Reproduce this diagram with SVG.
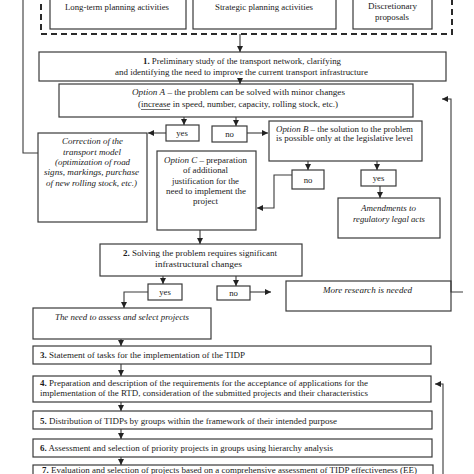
<svg xmlns="http://www.w3.org/2000/svg" width="474" height="474" viewBox="0 0 474 474">
<style>
.b{fill:#fff;stroke:#3a3a3a;stroke-width:1.2}
.t{font-family:"Liberation Serif","Times New Roman",serif;font-size:8.7px;fill:#1a1a1a}
.i{font-style:italic;font-size:9px}
.c{stroke:#3a3a3a;stroke-width:1.1;fill:none}
.d{fill:none;stroke:#2a2a2a;stroke-width:2;stroke-dasharray:6 4}
</style>
<defs>
<marker id="ah" markerUnits="userSpaceOnUse" markerWidth="6" markerHeight="6" refX="6" refY="3" orient="auto">
<path d="M0,0 L6,3 L0,6 z" fill="#222"/>
</marker>
</defs>
<rect width="474" height="474" fill="#fff"/>

<g id="sources">
<rect class="d" x="41" y="-10" width="411" height="44"/>
<g id="longterm"><rect class="b" x="50" y="-10" width="136" height="39"/>
<text class="t" x="65" y="10" textLength="104" lengthAdjust="spacingAndGlyphs">Long-term planning activities</text></g>
<g id="strategic"><rect class="b" x="193" y="-10" width="143" height="39"/>
<text class="t" x="215" y="10" textLength="98" lengthAdjust="spacingAndGlyphs">Strategic planning activities</text></g>
<g id="discretionary"><rect class="b" x="353" y="-10" width="79" height="39"/>
<text class="t" x="368" y="9" textLength="49" lengthAdjust="spacingAndGlyphs">Discretionary</text>
<text class="t" x="375" y="20" textLength="34" lengthAdjust="spacingAndGlyphs">proposals</text></g>
</g>

<g id="step1"><rect class="b" x="39" y="52" width="407" height="29"/>
<text class="t" x="143" y="64" textLength="198" lengthAdjust="spacingAndGlyphs"><tspan font-weight="bold">1.</tspan> Preliminary study of the transport network, clarifying</text>
<text class="t" x="115" y="74.5" textLength="253" lengthAdjust="spacingAndGlyphs">and identifying  the need to improve the current transport infrastructure</text></g>

<g id="optionA"><rect class="b" x="59" y="84" width="354" height="33"/>
<text class="t" x="132" y="95" textLength="213" lengthAdjust="spacingAndGlyphs"><tspan font-style="italic">Option A</tspan> – the problem can be solved with minor changes</text>
<text class="t" x="138" y="107" textLength="200" lengthAdjust="spacingAndGlyphs">(increase in speed, number, capacity, rolling stock, etc.)</text>
<line x1="141" y1="109.5" x2="170" y2="109.5" stroke="#333" stroke-width="0.7"/></g>

<g id="yesA"><rect class="b" x="166" y="125" width="33" height="16"/>
<text class="t" x="182" y="136" text-anchor="middle">yes</text></g>
<g id="noA"><rect class="b" x="212" y="126" width="35" height="16"/>
<text class="t" x="229.5" y="137" text-anchor="middle">no</text></g>

<g id="correction"><rect class="b" x="38" y="133" width="109" height="89"/>
<text class="t i" x="92.5" y="144" text-anchor="middle" textLength="61" lengthAdjust="spacingAndGlyphs">Correction of the</text>
<text class="t i" x="92" y="154.5" text-anchor="middle" textLength="58" lengthAdjust="spacingAndGlyphs">transport model</text>
<text class="t i" x="92.5" y="165" text-anchor="middle" textLength="75" lengthAdjust="spacingAndGlyphs">(optimization of road</text>
<text class="t i" x="91.5" y="175" text-anchor="middle" textLength="95" lengthAdjust="spacingAndGlyphs">signs, markings, purchase</text>
<text class="t i" x="91.5" y="186" text-anchor="middle" textLength="91" lengthAdjust="spacingAndGlyphs">of new rolling stock, etc.)</text></g>

<g id="optionB"><rect class="b" x="269" y="121" width="153" height="40"/>
<text class="t" x="276" y="132" textLength="137" lengthAdjust="spacingAndGlyphs"><tspan font-style="italic">Option B</tspan> – the solution to the problem</text>
<text class="t" x="276" y="140.5" textLength="137" lengthAdjust="spacingAndGlyphs">is possible only at the legislative  level</text></g>

<g id="noB"><rect class="b" x="292" y="170" width="32" height="19"/>
<text class="t" x="308" y="183" text-anchor="middle">no</text></g>
<g id="yesB"><rect class="b" x="361" y="170" width="35" height="16"/>
<text class="t" x="378.5" y="181" text-anchor="middle">yes</text></g>

<g id="amendments"><rect class="b" x="338" y="198" width="102" height="40"/>
<text class="t i" x="388.5" y="211" text-anchor="middle" textLength="55" lengthAdjust="spacingAndGlyphs">Amendments to</text>
<text class="t i" x="389" y="222" text-anchor="middle" textLength="72" lengthAdjust="spacingAndGlyphs">regulatory legal acts</text></g>

<g id="optionC"><rect class="b" x="157" y="151" width="99" height="79"/>
<text class="t" x="205.5" y="163" text-anchor="middle" textLength="83" lengthAdjust="spacingAndGlyphs"><tspan font-style="italic">Option C</tspan> – preparation</text>
<text class="t" x="205.5" y="173" text-anchor="middle" textLength="45" lengthAdjust="spacingAndGlyphs">of additional</text>
<text class="t" x="205.5" y="184" text-anchor="middle" textLength="67" lengthAdjust="spacingAndGlyphs">justification  for the</text>
<text class="t" x="206" y="194" text-anchor="middle" textLength="80" lengthAdjust="spacingAndGlyphs">need to implement  the</text>
<text class="t" x="205.5" y="204" text-anchor="middle" textLength="25" lengthAdjust="spacingAndGlyphs">project</text></g>

<g id="step2"><rect class="b" x="100" y="244" width="202" height="32"/>
<text class="t" x="123" y="256" textLength="154" lengthAdjust="spacingAndGlyphs"><tspan font-weight="bold">2.</tspan> Solving the problem requires significant</text>
<text class="t" x="155" y="267" textLength="87" lengthAdjust="spacingAndGlyphs">infrastructural  changes</text></g>

<g id="yes2"><rect class="b" x="148" y="284" width="34" height="16"/>
<text class="t" x="165" y="295" text-anchor="middle">yes</text></g>
<g id="no2"><rect class="b" x="217" y="286" width="33" height="14"/>
<text class="t" x="233.5" y="296" text-anchor="middle">no</text></g>

<g id="research"><rect class="b" x="286" y="281" width="165" height="30"/>
<text class="t i" x="323" y="293" textLength="89" lengthAdjust="spacingAndGlyphs">More research is needed</text></g>

<g id="need"><rect class="b" x="33" y="308" width="178" height="31"/>
<text class="t i" x="55" y="320" textLength="134" lengthAdjust="spacingAndGlyphs">The need to assess and select projects</text></g>

<g id="step3"><rect class="b" x="33" y="346" width="398" height="18"/>
<text class="t" x="40" y="358" textLength="205" lengthAdjust="spacingAndGlyphs"><tspan font-weight="bold">3.</tspan> Statement of tasks for the implementation  of the TIDP</text></g>

<g id="step4"><rect class="b" x="33" y="376" width="398" height="26"/>
<text class="t" x="40" y="386" textLength="328" lengthAdjust="spacingAndGlyphs"><tspan font-weight="bold">4.</tspan> Preparation and description of the requirements for the acceptance of applications for the</text>
<text class="t" x="40" y="396" textLength="328" lengthAdjust="spacingAndGlyphs">implementation  of the RTD, consideration of the submitted projects and their characteristics</text></g>

<g id="step5"><rect class="b" x="33" y="411" width="399" height="18"/>
<text class="t" x="40" y="424" textLength="297" lengthAdjust="spacingAndGlyphs"><tspan font-weight="bold">5.</tspan> Distribution of TIDPs by groups within the framework of their intended purpose</text></g>

<g id="step6"><rect class="b" x="33" y="439" width="399" height="18"/>
<text class="t" x="40" y="451" textLength="293" lengthAdjust="spacingAndGlyphs"><tspan font-weight="bold">6.</tspan> Assessment and selection of priority projects in groups using hierarchy analysis</text></g>

<g id="step7"><rect class="b" x="33" y="465" width="400" height="25"/>
<text class="t" x="42" y="473" textLength="375" lengthAdjust="spacingAndGlyphs"><tspan font-weight="bold">7.</tspan> Evaluation and selection of projects based on a comprehensive assessment of TIDP effectiveness (EE)</text></g>

<g id="connectors" class="c">
<path class="c" d="M240,34 V52" marker-end="url(#ah)"/>
<path class="c" d="M240,81 V84" marker-end="url(#ah)"/>
<path class="c" d="M184,117 V125" marker-end="url(#ah)"/>
<path class="c" d="M236,117 V126" marker-end="url(#ah)"/>
<path class="c" d="M166,133 H148" marker-end="url(#ah)"/>
<path class="c" d="M247,133 H268" marker-end="url(#ah)"/>
<path class="c" d="M308,161 V170" marker-end="url(#ah)"/>
<path class="c" d="M377,161 V170" marker-end="url(#ah)"/>
<path class="c" d="M380,186 V198" marker-end="url(#ah)"/>
<path class="c" d="M292,175 H274 V208 H257" marker-end="url(#ah)"/>
<path class="c" d="M200,230 V244" marker-end="url(#ah)"/>
<path class="c" d="M163,276 V284" marker-end="url(#ah)"/>
<path class="c" d="M236,276 V286" marker-end="url(#ah)"/>
<path class="c" d="M250,292 H271" marker-end="url(#ah)"/>
<path class="c" d="M148,292 H124 V308" marker-end="url(#ah)"/>
<path class="c" d="M121,339 V346" marker-end="url(#ah)"/>
<path class="c" d="M121,364 V376" marker-end="url(#ah)"/>
<path class="c" d="M121,402 V411" marker-end="url(#ah)"/>
<path class="c" d="M121,429 V439" marker-end="url(#ah)"/>
<path class="c" d="M121,457 V465" marker-end="url(#ah)"/>
<path class="c" d="M23,-5 V153 H38"/>
<path class="c" d="M463,292 H451 V99 H442" marker-end="url(#ah)"/>
<path class="c" d="M443,480 V384 H435" marker-end="url(#ah)"/>
</g>
</svg>
